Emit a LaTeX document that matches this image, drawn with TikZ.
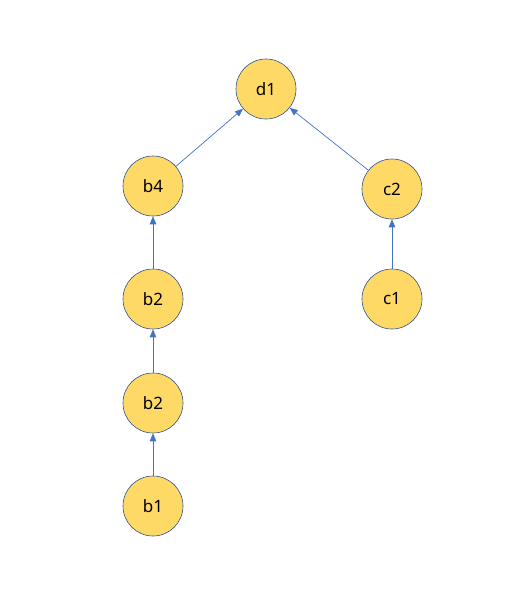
\documentclass[tikz,border=0pt]{standalone}
\usepackage{fontspec}
\setmainfont{Noto Sans}
\usetikzlibrary{arrows.meta}
\definecolor{nodefill}{HTML}{FFD966}
\definecolor{nodeline}{HTML}{2F528F}
\definecolor{arrowc}{HTML}{4472C4}
\begin{document}
\begin{tikzpicture}[x=1pt,y=-1pt,
  tnode/.style={circle,draw=nodeline,fill=nodefill,line width=0.6pt,minimum size=60pt,inner sep=0pt,font=\fontsize{17}{20}\selectfont},
  conn/.style={draw=arrowc,line width=0.7pt,-{Triangle[length=8pt,width=6.5pt]}}]
\useasboundingbox (0,0) rectangle (531,611);
\node[tnode] (d1) at (266,89) {d1};
\node[tnode] (b4) at (153,186) {b4};
\node[tnode] (c2) at (392,189) {c2};
\node[tnode] (b2a) at (153,299) {b2};
\node[tnode] (c1) at (392,299) {c1};
\node[tnode] (b2b) at (153,403) {b2};
\node[tnode] (b1) at (153,506) {b1};
\draw[conn] (b4) -- (d1);
\draw[conn] (c2) -- (d1);
\draw[conn] (b2a) -- (b4);
\draw[conn] (c1) -- (c2);
\draw[conn] (b2b) -- (b2a);
\draw[conn] (b1) -- (b2b);
\end{tikzpicture}
\end{document}
